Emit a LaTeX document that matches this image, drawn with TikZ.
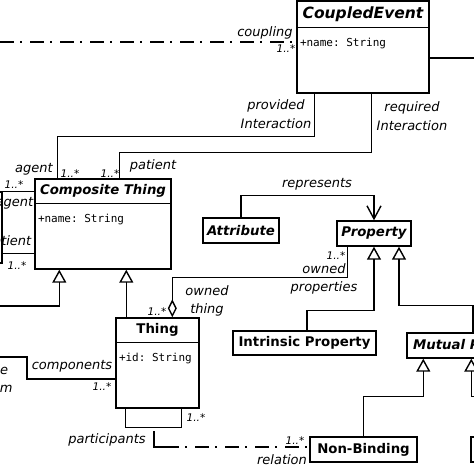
\documentclass[tikz,border=0pt]{standalone}
\usepackage{fontspec}
\setmainfont{DejaVu Sans}
\setmonofont{DejaVu Sans Mono}
\usetikzlibrary{positioning,arrows.meta}

\begin{document}
\begin{tikzpicture}[
  x=1pt, y=-1pt,
  line width=1.4pt,
  cls/.style={draw,line width=1.4pt,inner sep=0pt},
  cname/.style={font=\fontsize{13.3}{15}\selectfont\bfseries\itshape,inner sep=0pt},
  cnameup/.style={font=\fontsize{13.3}{15}\selectfont\bfseries,inner sep=0pt},
  attrtxt/.style={font=\fontsize{11}{13}\selectfont\ttfamily,anchor=base west,inner sep=0pt},
  role/.style={font=\fontsize{13}{18.5}\selectfont\itshape,align=center,inner sep=0pt},
  mult/.style={font=\fontsize{10.5}{12}\selectfont\itshape,inner sep=0pt},
  gen/.style={-{Triangle[open,length=13pt,width=14pt]}},
  agg/.style={{Diamond[open,length=18pt,width=9pt]}-},
  nav/.style={-{Straight Barb[length=13pt,width=14pt]}},
  dashdot/.style={line width=1.6pt,dash pattern=on 14pt off 6pt on 2pt off 8pt}
]
\useasboundingbox (0,0) rectangle (474,474);
\clip (0,0) rectangle (474,474);

% classes with compartments
\node[cls,minimum width=132pt,minimum height=92pt] (ce) at (363,47) {};
\draw ([yshift=-27pt]ce.north west) -- ([yshift=-27pt]ce.north east);
\node[cname,font=\fontsize{15.5}{17}\selectfont\bfseries\itshape] (cet) at ([yshift=-13.5pt]ce.north) {CoupledEvent};
\node[attrtxt] (cea) at ([xshift=3pt,yshift=-46pt]ce.north west) {+name: String};

\node[cls,minimum width=136pt,minimum height=90pt] (ct) at (103,224) {};
\draw ([yshift=-25pt]ct.north west) -- ([yshift=-25pt]ct.north east);
\node[cname] (ctt) at ([yshift=-12.5pt]ct.north) {Composite Thing};
\node[attrtxt] (cta) at ([xshift=3pt,yshift=-44pt]ct.north west) {+name: String};

\node[cls,minimum width=83pt,minimum height=90pt] (th) at (157.5,363) {};
\draw ([yshift=-25pt]th.north west) -- ([yshift=-25pt]th.north east);
\node[cnameup] (tht) at ([yshift=-12.5pt]th.north) {Thing};
\node[attrtxt] (tha) at ([xshift=3pt,yshift=-44pt]th.north west) {+id: String};

% plain classes
\node[cls,cname,minimum width=76pt,minimum height=25pt] (attrib) at (241,230.5) {Attribute};
\node[cls,cname,minimum width=74pt,minimum height=25pt] (prop) at (374,233.5) {Property};
\node[cls,cnameup,minimum width=143pt,minimum height=24pt] (intr) at (304.5,343) {Intrinsic Property};
\node[cls,cname,minimum width=134pt,minimum height=25pt] (mutual) at (474,345.5) {Mutual Property};
\node[cls,cnameup,minimum width=107pt,minimum height=25pt] (nonb) at (363.5,449.5) {Non-Binding};
\node[cls,minimum width=88pt,minimum height=25pt] (bind) at (515,449.5) {};
\node[cls,minimum width=80pt,minimum height=71pt] (lft) at (-38,227.5) {};

% free ends
\coordinate (cpl) at (0,42);
\coordinate (ceR) at (474,58);
\coordinate (sub) at (0,306);
\coordinate (whole) at (0,357);
\coordinate (relA) at (154,431);
\coordinate (relB) at (165,447);

% connectors
\draw[dashdot] (cpl) -- (cpl -| ce.west);
\draw (ce.east |- ceR) -- (ceR);
\draw ([xshift=18pt]ce.south west) -- ++(0,43) -| ([xshift=23pt]ct.north west);
\draw ([xshift=75pt]ce.south west) -- ++(0,59) -| ([xshift=85pt]ct.north west);
\draw (lft.north east) -- (lft.north east -| ct.west);
\draw ([yshift=10pt]lft.south east) -- ([yshift=10pt]lft.south east -| ct.west);
\draw[gen] (sub) -| ([xshift=25pt]ct.south west);
\draw[gen] ([xshift=11pt]th.north west) -- ([xshift=11pt]th.north west |- ct.south);
\draw[nav] (attrib.north) -- ++(0,-22) -| (prop.north);
\draw[agg] ([xshift=57pt]th.north west) -- ++(0,-40) -| ([xshift=11pt]prop.south west);
\draw[gen] ([xshift=2.5pt]intr.north) -- ++(0,-20) -| (prop.south);
\draw[gen] ([xshift=-1pt]mutual.north) -- ++(0,-27) -| ([xshift=25pt]prop.south);
\draw[gen] (nonb.north) -- ++(0,-40) -| ([xshift=17pt]mutual.south west);
\draw[gen] (bind.north) -- ++(0,-40) -| ([xshift=65pt]mutual.south west);
\draw ([yshift=-16pt]th.west) -| ([xshift=27pt]whole) -- (whole);
\draw ([xshift=10pt]th.south west) -- ++(0,19) -| ([xshift=66pt]th.south west);
\draw (relA) |- (relB);
\draw[dashdot] (relB) -- (relB -| nonb.west);

% role names and multiplicities
\node[role] (lcoupling) at (265,33) {coupling};
\node[mult] (mcoupling) at (286,49) {1..*};
\node[role] (lprov) at (276,114) {provided\\Interaction};
\node[role] (lreq) at (412,116) {required\\Interaction};
\node[role] (lagent) at (34,169) {agent};
\node[role] (lpatient) at (153,166) {patient};
\node[mult] (magent) at (70,174) {1..*};
\node[mult] (mpatient) at (110,174) {1..*};
\node[mult] (mlft1) at (14,185) {1..*};
\node[mult] (mlft2) at (17,266) {1..*};
\node[role,anchor=east] (lagent2) at (34,203) {agent};
\node[role,anchor=east] (lpatient2) at (32,242) {patient};
\node[role] (lrep) at (317,184) {represents};
\node[role] (lownth) at (207,301) {owned\\thing};
\node[mult] (mownth) at (157,312) {1..*};
\node[mult] (mownpr) at (336,256) {1..*};
\node[role] (lownpr) at (324,279) {owned\\properties};
\node[role] (lcomp) at (72,366) {components};
\node[mult] (mcomp) at (102,387) {1..*};
\node[role] (lwhole) at (-11,380) {whole\\system};
\node[role] (lpart) at (107,440) {participants};
\node[mult] (mpart) at (196,418) {1..*};
\node[mult] (mrel) at (295,441) {1..*};
\node[role] (lrel) at (282,460) {relation};
\end{tikzpicture}
\end{document}
